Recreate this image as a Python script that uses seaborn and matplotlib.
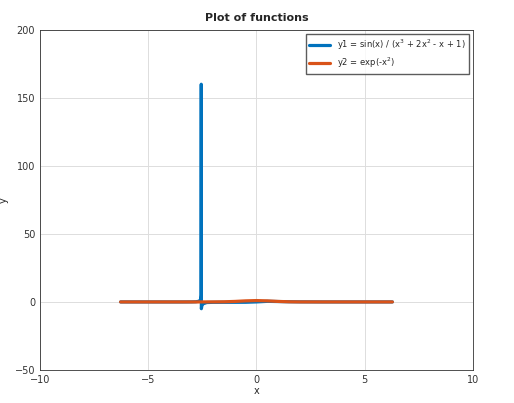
import matplotlib
matplotlib.use("Agg")
import matplotlib.pyplot as plt
import seaborn as sns
import pandas as pd

x1 = [-6.28, -5, -4, -3.5, -3, -2.8, -2.65, -2.58, -2.56, -2.552, -2.548, -2.52, -2.5, -2.3, -2,
      -1.5, -1, -0.5, 0, 0.5, 1, 1.5, 2, 3, 4, 5, 6.28]
y1 = [0, -0.014, -0.028, -0.025, 0.028, 0.135, 0.52, 1.9, 5, 160, -5, -2.6, -1.6, -0.44, -0.3,
      -0.275, -0.28, -0.256, 0, 0.426, 0.28, 0.135, 0.06, 0.003, -0.008, -0.0056, 0]
x2 = [-6.28, -3, -2, -1.5, -1, -0.5, 0, 0.5, 1, 1.5, 2, 3, 6.28]
y2 = [0, 0.0001, 0.018, 0.105, 0.368, 0.779, 1, 0.779, 0.368, 0.105, 0.018, 0.0001, 0]

sns.set_style("white")
plt.rcParams['font.family'] = ['DejaVu Sans']
fig = plt.figure(figsize=(5.14, 4.03), dpi=100)
ax = fig.add_axes([0.078, 0.082, 0.842, 0.844])
df1 = pd.DataFrame({"x": x1, "y": y1})
df2 = pd.DataFrame({"x": x2, "y": y2})
sns.lineplot(data=df1, x="x", y="y", ax=ax, sort=False, estimator=None, color="#0072BD", lw=2.3,
             label=r"y1 = sin(x) / (x$^3$ + 2x$^2$ - x + 1)")
sns.lineplot(data=df2, x="x", y="y", ax=ax, sort=False, estimator=None, color="#D95319", lw=2.3,
             label=r"y2 = exp(-x$^2$)")
ax.set_xlim(-10, 10)
ax.set_ylim(-50, 200)
ax.set_xticks([-10, -5, 0, 5, 10])
ax.set_yticks([-50, 0, 50, 100, 150, 200])
ax.grid(True, color="#dddddd", lw=0.7)
for s in ax.spines.values():
    s.set_color("#333333"); s.set_linewidth(0.6)
ax.tick_params(labelsize=7, direction="in", length=3, colors="#333333")
ax.set_xlabel("x", fontsize=7, labelpad=1)
ax.set_ylabel("y", fontsize=7)
ax.set_title("Plot of functions", fontsize=8, fontweight="bold")
leg = ax.legend(loc="upper right", fontsize=6, frameon=True, fancybox=False, handlelength=2.5)
leg.get_frame().set_edgecolor("#333333")
fig.savefig("out.png", dpi=100)
